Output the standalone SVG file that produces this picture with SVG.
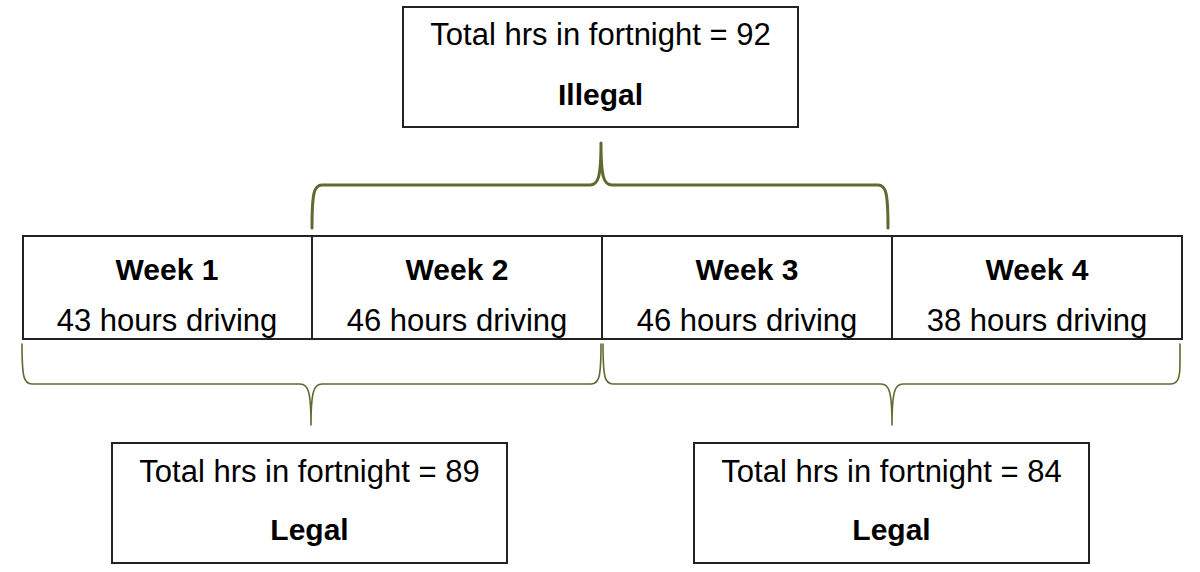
<svg xmlns="http://www.w3.org/2000/svg" width="1200" height="572" viewBox="0 0 1200 572">
<style>
.box{fill:#fff;stroke:#222;stroke-width:2}
.t{font-family:"Liberation Sans",Arial,sans-serif;font-size:31px;fill:#000;text-anchor:middle}
.b{font-weight:bold;font-size:30px}
.brace{fill:none;stroke:#5d6b33;stroke-linecap:round;stroke-linejoin:round}
</style>
<rect width="1200" height="572" fill="#fff"/>
<g id="connectors">
<path class="brace" stroke-width="3" d="M312,228 C312,193 314,185 322,185 L590,185 C598,185 601,178 601,143 C601,178 604,185 612,185 L878,185 C886,185 888,193 888,228"/>
<path class="brace" stroke-width="1.6" d="M22,344 C22,378 24,384 32,384 L300,384 C308,384 311,391 311,425 C311,391 314,384 322,384 L591,384 C599,384 601,378 601,344"/>
<path class="brace" stroke-width="1.6" d="M603,344 C603,378 605,384 613,384 L881,384 C889,384 892,391 892,425 C892,391 895,384 903,384 L1170,384 C1178,384 1180,378 1180,364 L1180,344"/>
</g>
<g id="total-all">
<rect class="box" x="403" y="7" width="395" height="120"/>
<text class="t" x="600.5" y="45">Total hrs in fortnight = 92</text>
<text class="t b" x="600.5" y="105">Illegal</text>
</g>
<g id="week1">
<rect class="box" x="23" y="236" width="289" height="103"/>
<text class="t b" x="167" y="280">Week 1</text>
<text class="t" x="167" y="331">43 hours driving</text>
</g>
<g id="week2">
<rect class="box" x="312" y="236" width="290" height="103"/>
<text class="t b" x="457" y="280">Week 2</text>
<text class="t" x="457" y="331">46 hours driving</text>
</g>
<g id="week3">
<rect class="box" x="602" y="236" width="290" height="103"/>
<text class="t b" x="747" y="280">Week 3</text>
<text class="t" x="747" y="331">46 hours driving</text>
</g>
<g id="week4">
<rect class="box" x="892" y="236" width="290" height="103"/>
<text class="t b" x="1037" y="280">Week 4</text>
<text class="t" x="1037" y="331">38 hours driving</text>
</g>
<g id="total-12">
<rect class="box" x="112" y="443" width="395" height="120"/>
<text class="t" x="309.5" y="482">Total hrs in fortnight = 89</text>
<text class="t b" x="309.5" y="540">Legal</text>
</g>
<g id="total-34">
<rect class="box" x="694" y="443" width="395" height="120"/>
<text class="t" x="891.5" y="482">Total hrs in fortnight = 84</text>
<text class="t b" x="891.5" y="540">Legal</text>
</g>
</svg>
